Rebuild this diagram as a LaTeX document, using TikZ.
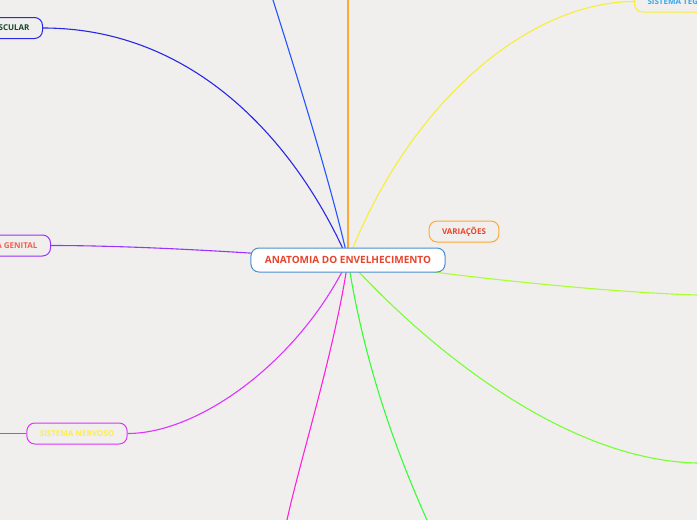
\documentclass[tikz,border=0pt]{standalone}
\usepackage{fontspec}
\setmainfont{Open Sans}
\pgfdeclarelayer{paper}
\pgfdeclarelayer{edges}
\pgfsetlayers{paper,edges,main}
\definecolor{paper}{HTML}{F0EFED}
\definecolor{mainblue}{HTML}{4A90D0}
\definecolor{mainred}{HTML}{E8452C}
\definecolor{muscblue}{HTML}{2828E6}
\definecolor{muscgreen}{HTML}{124A2C}
\definecolor{topblue}{HTML}{2255FF}
\definecolor{tegyellow}{HTML}{F7EE3A}
\definecolor{tegcyan}{HTML}{33AAEE}
\definecolor{varorange}{HTML}{FFA833}
\definecolor{limegreen}{HTML}{AAFF33}
\definecolor{leafgreen}{HTML}{77FF33}
\definecolor{brightgreen}{HTML}{33FF33}
\definecolor{hotpink}{HTML}{FF22DD}
\definecolor{nervpurple}{HTML}{DD33FF}
\definecolor{nervyellow}{HTML}{FFEE44}
\definecolor{genpurple}{HTML}{9933FF}
\definecolor{gensalmon}{HTML}{F06050}
\begin{document}
\begin{tikzpicture}[x=1pt,y=-1pt,
  topic/.style={draw,rounded corners=8pt,line width=1pt,fill=paper,
    font=\bfseries\fontsize{8}{9}\selectfont,minimum height=21pt,inner xsep=13pt},
  branch/.style={line width=1.1pt}]
%\draw[step=50,gray,very thin] (0,0) grid (697,520);
\useasboundingbox (0,0) rectangle (697,520);
\begin{pgfonlayer}{paper}
\fill[paper] (0,0) rectangle (697,520);
\end{pgfonlayer}
% central topic
\node[topic,draw=mainblue,fill=white,text=mainred,
  font=\bfseries\fontsize{10}{11}\selectfont,minimum height=24pt,inner xsep=14pt]
  (anat) at (348,260) {ANATOMIA DO ENVELHECIMENTO};
% main topics
\node[topic,draw=muscblue,text=muscgreen,anchor=east] (musc) at (43,28) {SISTEMA MUSCULAR};
\node[topic,draw=genpurple,text=gensalmon,anchor=east] (genit) at (51,245.5) {SISTEMA GENITAL};
\node[topic,draw=nervpurple,text=nervyellow] (nerv) at (77,433.5) {SISTEMA NERVOSO};
\node[topic,draw=tegyellow,text=tegcyan,anchor=west] (teg) at (634,1.5) {SISTEMA TEGUMENTAR};
\node[topic,draw=varorange,text=mainred] (var) at (464,231.5) {VARIAÇÕES};
% free ends at the border
\coordinate (topBlue) at (273,0);
\coordinate (topOrange) at (348,0);
\coordinate (rightLime) at (697,295);
\coordinate (rightGreen) at (697,463);
\coordinate (botGreen) at (427,520);
\coordinate (botPink) at (287,520);
\coordinate (leftNerv) at (0,433.5);
\begin{pgfonlayer}{edges}
\draw[branch,muscblue] (musc.east) .. controls (200,28) and (300,150) .. (anat.center);
\draw[branch,topblue] (anat.center) .. controls (330,180) and (295,70) .. (topBlue);
\draw[branch,varorange] (anat.center) -- (topOrange);
\draw[branch,tegyellow] (anat.center) .. controls (410,100) and (530,2) .. (teg.west);
\draw[branch,limegreen] (anat.center) .. controls (450,276) and (600,292) .. (rightLime);
\draw[branch,leafgreen] (anat.center) .. controls (420,340) and (560,460) .. (rightGreen);
\draw[branch,brightgreen] (anat.center) .. controls (365,370) and (400,460) .. (botGreen);
\draw[branch,hotpink] (anat.center) .. controls (335,350) and (300,460) .. (botPink);
\draw[branch,nervpurple] (anat.center) .. controls (300,360) and (200,433.5) .. (nerv.east);
\draw[branch,nervpurple] (nerv.west) -- (leftNerv);
\draw[branch,genpurple] (anat.center) .. controls (220,250) and (120,245.5) .. (genit.east);
\end{pgfonlayer}
\end{tikzpicture}
\end{document}
